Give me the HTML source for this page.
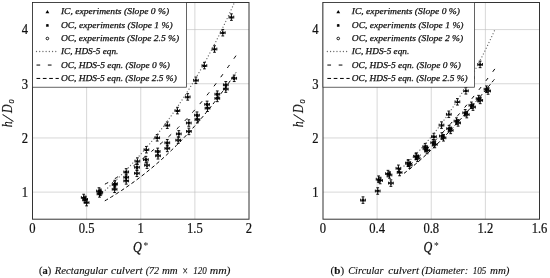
<!DOCTYPE html>
<html lang="en"><head><meta charset="utf-8"><title>Culvert headwater figure</title>
<style>html,body{margin:0;padding:0;background:#fff}svg{display:block}</style></head>
<body>
<svg width="550" height="278" viewBox="0 0 550 278" font-family='"Liberation Serif", "DejaVu Serif", serif' fill="#111">
<rect width="550" height="278" fill="#fff"/>
<path d="M86.62 2.5V219.2M140.75 2.5V219.2M194.88 2.5V219.2M32.5 192.11H249.0M32.5 137.94H249.0M32.5 83.76H249.0M32.5 29.59H249.0" stroke="#bdbdbd" stroke-width="0.6" fill="none"/>
<g stroke="#000" stroke-width="0.92" fill="none">
<path d="M81.35 197.50H86.05M83.70 194.25V200.75M81.35 196.10v2.8M86.05 196.10v2.8M82.30 194.25h2.8M82.30 200.75h2.8"/>
<path d="M96.65 191.00H101.35M99.00 187.75V194.25M96.65 189.60v2.8M101.35 189.60v2.8M97.60 187.75h2.8M97.60 194.25h2.8"/>
<path d="M112.55 183.60H117.25M114.90 180.35V186.85M112.55 182.20v2.8M117.25 182.20v2.8M113.50 180.35h2.8M113.50 186.85h2.8"/>
<path d="M123.85 171.90H128.55M126.20 168.65V175.15M123.85 170.50v2.8M128.55 170.50v2.8M124.80 168.65h2.8M124.80 175.15h2.8"/>
<path d="M135.05 161.10H139.75M137.40 157.85V164.35M135.05 159.70v2.8M139.75 159.70v2.8M136.00 157.85h2.8M136.00 164.35h2.8"/>
<path d="M144.05 149.70H148.75M146.40 146.45V152.95M144.05 148.30v2.8M148.75 148.30v2.8M145.00 146.45h2.8M145.00 152.95h2.8"/>
<path d="M154.85 137.80H159.55M157.20 134.55V141.05M154.85 136.40v2.8M159.55 136.40v2.8M155.80 134.55h2.8M155.80 141.05h2.8"/>
<path d="M164.95 125.20H169.65M167.30 121.95V128.45M164.95 123.80v2.8M169.65 123.80v2.8M165.90 121.95h2.8M165.90 128.45h2.8"/>
<path d="M175.05 110.60H179.75M177.40 107.35V113.85M175.05 109.20v2.8M179.75 109.20v2.8M176.00 107.35h2.8M176.00 113.85h2.8"/>
<path d="M185.35 96.90H190.05M187.70 93.65V100.15M185.35 95.50v2.8M190.05 95.50v2.8M186.30 93.65h2.8M186.30 100.15h2.8"/>
<path d="M193.55 80.30H198.25M195.90 77.05V83.55M193.55 78.90v2.8M198.25 78.90v2.8M194.50 77.05h2.8M194.50 83.55h2.8"/>
<path d="M202.05 65.60H206.75M204.40 62.35V68.85M202.05 64.20v2.8M206.75 64.20v2.8M203.00 62.35h2.8M203.00 68.85h2.8"/>
<path d="M212.15 49.00H216.85M214.50 45.75V52.25M212.15 47.60v2.8M216.85 47.60v2.8M213.10 45.75h2.8M213.10 52.25h2.8"/>
<path d="M220.45 32.70H225.15M222.80 29.45V35.95M220.45 31.30v2.8M225.15 31.30v2.8M221.40 29.45h2.8M221.40 35.95h2.8"/>
<path d="M229.05 17.10H233.75M231.40 13.85V20.35M229.05 15.70v2.8M233.75 15.70v2.8M230.00 13.85h2.8M230.00 20.35h2.8"/>
<path d="M82.75 199.40H87.45M85.10 196.15V202.65M82.75 198.00v2.8M87.45 198.00v2.8M83.70 196.15h2.8M83.70 202.65h2.8"/>
<path d="M97.95 192.30H102.65M100.30 189.05V195.55M97.95 190.90v2.8M102.65 190.90v2.8M98.90 189.05h2.8M98.90 195.55h2.8"/>
<path d="M112.25 184.60H116.95M114.60 181.35V187.85M112.25 183.20v2.8M116.95 183.20v2.8M113.20 181.35h2.8M113.20 187.85h2.8"/>
<path d="M123.85 177.30H128.55M126.20 174.05V180.55M123.85 175.90v2.8M128.55 175.90v2.8M124.80 174.05h2.8M124.80 180.55h2.8"/>
<path d="M134.65 167.30H139.35M137.00 164.05V170.55M134.65 165.90v2.8M139.35 165.90v2.8M135.60 164.05h2.8M135.60 170.55h2.8"/>
<path d="M143.55 159.60H148.25M145.90 156.35V162.85M143.55 158.20v2.8M148.25 158.20v2.8M144.50 156.35h2.8M144.50 162.85h2.8"/>
<path d="M155.35 151.40H160.05M157.70 148.15V154.65M155.35 150.00v2.8M160.05 150.00v2.8M156.30 148.15h2.8M156.30 154.65h2.8"/>
<path d="M164.95 142.80H169.65M167.30 139.55V146.05M164.95 141.40v2.8M169.65 141.40v2.8M165.90 139.55h2.8M165.90 146.05h2.8"/>
<path d="M176.45 133.90H181.15M178.80 130.65V137.15M176.45 132.50v2.8M181.15 132.50v2.8M177.40 130.65h2.8M177.40 137.15h2.8"/>
<path d="M186.45 123.00H191.15M188.80 119.75V126.25M186.45 121.60v2.8M191.15 121.60v2.8M187.40 119.75h2.8M187.40 126.25h2.8"/>
<path d="M194.65 115.20H199.35M197.00 111.95V118.45M194.65 113.80v2.8M199.35 113.80v2.8M195.60 111.95h2.8M195.60 118.45h2.8"/>
<path d="M204.75 104.40H209.45M207.10 101.15V107.65M204.75 103.00v2.8M209.45 103.00v2.8M205.70 101.15h2.8M205.70 107.65h2.8"/>
<path d="M214.95 94.20H219.65M217.30 90.95V97.45M214.95 92.80v2.8M219.65 92.80v2.8M215.90 90.95h2.8M215.90 97.45h2.8"/>
<path d="M223.45 84.80H228.15M225.80 81.55V88.05M223.45 83.40v2.8M228.15 83.40v2.8M224.40 81.55h2.8M224.40 88.05h2.8"/>
<path d="M231.85 78.30H236.55M234.20 75.05V81.55M231.85 76.90v2.8M236.55 76.90v2.8M232.80 75.05h2.8M232.80 81.55h2.8"/>
<path d="M84.25 202.60H88.95M86.60 199.35V205.85M84.25 201.20v2.8M88.95 201.20v2.8M85.20 199.35h2.8M85.20 205.85h2.8"/>
<path d="M97.15 193.90H101.85M99.50 190.65V197.15M97.15 192.50v2.8M101.85 192.50v2.8M98.10 190.65h2.8M98.10 197.15h2.8"/>
<path d="M112.25 189.30H116.95M114.60 186.05V192.55M112.25 187.90v2.8M116.95 187.90v2.8M113.20 186.05h2.8M113.20 192.55h2.8"/>
<path d="M123.85 180.90H128.55M126.20 177.65V184.15M123.85 179.50v2.8M128.55 179.50v2.8M124.80 177.65h2.8M124.80 184.15h2.8"/>
<path d="M134.55 173.30H139.25M136.90 170.05V176.55M134.55 171.90v2.8M139.25 171.90v2.8M135.50 170.05h2.8M135.50 176.55h2.8"/>
<path d="M144.65 165.20H149.35M147.00 161.95V168.45M144.65 163.80v2.8M149.35 163.80v2.8M145.60 161.95h2.8M145.60 168.45h2.8"/>
<path d="M155.65 155.80H160.35M158.00 152.55V159.05M155.65 154.40v2.8M160.35 154.40v2.8M156.60 152.55h2.8M156.60 159.05h2.8"/>
<path d="M164.95 148.40H169.65M167.30 145.15V151.65M164.95 147.00v2.8M169.65 147.00v2.8M165.90 145.15h2.8M165.90 151.65h2.8"/>
<path d="M175.85 140.20H180.55M178.20 136.95V143.45M175.85 138.80v2.8M180.55 138.80v2.8M176.80 136.95h2.8M176.80 143.45h2.8"/>
<path d="M186.55 131.40H191.25M188.90 128.15V134.65M186.55 130.00v2.8M191.25 130.00v2.8M187.50 128.15h2.8M187.50 134.65h2.8"/>
<path d="M195.05 119.60H199.75M197.40 116.35V122.85M195.05 118.20v2.8M199.75 118.20v2.8M196.00 116.35h2.8M196.00 122.85h2.8"/>
<path d="M205.15 108.20H209.85M207.50 104.95V111.45M205.15 106.80v2.8M209.85 106.80v2.8M206.10 104.95h2.8M206.10 111.45h2.8"/>
<path d="M214.95 98.40H219.65M217.30 95.15V101.65M214.95 97.00v2.8M219.65 97.00v2.8M215.90 95.15h2.8M215.90 101.65h2.8"/>
<path d="M223.45 89.10H228.15M225.80 85.85V92.35M223.45 87.70v2.8M228.15 87.70v2.8M224.40 85.85h2.8M224.40 92.35h2.8"/>
<path d="M83.70 195.50l1.9 3.3h-3.8z" fill="#000" stroke="none"/>
<path d="M99.00 189.00l1.9 3.3h-3.8z" fill="#000" stroke="none"/>
<path d="M114.90 181.60l1.9 3.3h-3.8z" fill="#000" stroke="none"/>
<path d="M126.20 169.90l1.9 3.3h-3.8z" fill="#000" stroke="none"/>
<path d="M137.40 159.10l1.9 3.3h-3.8z" fill="#000" stroke="none"/>
<path d="M146.40 147.70l1.9 3.3h-3.8z" fill="#000" stroke="none"/>
<path d="M157.20 135.80l1.9 3.3h-3.8z" fill="#000" stroke="none"/>
<path d="M167.30 123.20l1.9 3.3h-3.8z" fill="#000" stroke="none"/>
<path d="M177.40 108.60l1.9 3.3h-3.8z" fill="#000" stroke="none"/>
<path d="M187.70 94.90l1.9 3.3h-3.8z" fill="#000" stroke="none"/>
<path d="M195.90 78.30l1.9 3.3h-3.8z" fill="#000" stroke="none"/>
<path d="M204.40 63.60l1.9 3.3h-3.8z" fill="#000" stroke="none"/>
<path d="M214.50 47.00l1.9 3.3h-3.8z" fill="#000" stroke="none"/>
<path d="M222.80 30.70l1.9 3.3h-3.8z" fill="#000" stroke="none"/>
<path d="M231.40 15.10l1.9 3.3h-3.8z" fill="#000" stroke="none"/>
<path d="M84.00 198.30l2.2 2.2m0 -2.2l-2.2 2.2" stroke-width="1.4"/>
<path d="M99.20 191.20l2.2 2.2m0 -2.2l-2.2 2.2" stroke-width="1.4"/>
<path d="M113.50 183.50l2.2 2.2m0 -2.2l-2.2 2.2" stroke-width="1.4"/>
<path d="M125.10 176.20l2.2 2.2m0 -2.2l-2.2 2.2" stroke-width="1.4"/>
<path d="M135.90 166.20l2.2 2.2m0 -2.2l-2.2 2.2" stroke-width="1.4"/>
<path d="M144.80 158.50l2.2 2.2m0 -2.2l-2.2 2.2" stroke-width="1.4"/>
<path d="M156.60 150.30l2.2 2.2m0 -2.2l-2.2 2.2" stroke-width="1.4"/>
<path d="M166.20 141.70l2.2 2.2m0 -2.2l-2.2 2.2" stroke-width="1.4"/>
<path d="M177.70 132.80l2.2 2.2m0 -2.2l-2.2 2.2" stroke-width="1.4"/>
<path d="M187.70 121.90l2.2 2.2m0 -2.2l-2.2 2.2" stroke-width="1.4"/>
<path d="M195.90 114.10l2.2 2.2m0 -2.2l-2.2 2.2" stroke-width="1.4"/>
<path d="M206.00 103.30l2.2 2.2m0 -2.2l-2.2 2.2" stroke-width="1.4"/>
<path d="M216.20 93.10l2.2 2.2m0 -2.2l-2.2 2.2" stroke-width="1.4"/>
<path d="M224.70 83.70l2.2 2.2m0 -2.2l-2.2 2.2" stroke-width="1.4"/>
<path d="M233.10 77.20l2.2 2.2m0 -2.2l-2.2 2.2" stroke-width="1.4"/>
<circle cx="86.60" cy="202.60" r="1.3" fill="none" stroke-width="0.9"/>
<circle cx="99.50" cy="193.90" r="1.3" fill="none" stroke-width="0.9"/>
<circle cx="114.60" cy="189.30" r="1.3" fill="none" stroke-width="0.9"/>
<circle cx="126.20" cy="180.90" r="1.3" fill="none" stroke-width="0.9"/>
<circle cx="136.90" cy="173.30" r="1.3" fill="none" stroke-width="0.9"/>
<circle cx="147.00" cy="165.20" r="1.3" fill="none" stroke-width="0.9"/>
<circle cx="158.00" cy="155.80" r="1.3" fill="none" stroke-width="0.9"/>
<circle cx="167.30" cy="148.40" r="1.3" fill="none" stroke-width="0.9"/>
<circle cx="178.20" cy="140.20" r="1.3" fill="none" stroke-width="0.9"/>
<circle cx="188.90" cy="131.40" r="1.3" fill="none" stroke-width="0.9"/>
<circle cx="197.40" cy="119.60" r="1.3" fill="none" stroke-width="0.9"/>
<circle cx="207.50" cy="108.20" r="1.3" fill="none" stroke-width="0.9"/>
<circle cx="217.30" cy="98.40" r="1.3" fill="none" stroke-width="0.9"/>
<circle cx="225.80" cy="89.10" r="1.3" fill="none" stroke-width="0.9"/>
</g>
<path d="M105.30 190.18L107.49 188.18L109.68 186.15L111.87 184.09L114.06 182.00L116.25 179.89L118.44 177.75L120.63 175.59L122.82 173.39L125.01 171.16L127.20 168.90L129.39 166.61L131.58 164.29L133.77 161.94L135.96 159.55L138.15 157.13L140.34 154.67L142.53 152.18L144.72 149.65L146.91 147.08L149.10 144.48L151.29 141.83L153.48 139.15L155.67 136.42L157.86 133.65L160.05 130.84L162.24 127.98L164.43 125.09L166.62 122.14L168.81 119.15L170.99 116.11L173.18 113.02L175.37 109.88L177.56 106.70L179.75 103.46L181.94 100.16L184.13 96.82L186.32 93.42L188.51 89.96L190.70 86.45L192.89 82.87L195.08 79.24L197.27 75.55L199.46 71.80L201.65 67.98L203.84 64.10L206.03 60.15L208.22 56.14L210.41 52.06L212.60 47.92L214.79 43.70L216.98 39.41L219.17 35.04L221.36 30.61L223.55 26.10L225.74 21.51L227.93 16.84L230.12 12.10L232.31 7.27L234.50 2.36" stroke="#686868" stroke-width="1.3" fill="none" stroke-dasharray="0.01 3.2" stroke-dashoffset="0" stroke-linecap="round"/>
<path d="M104.90 184.20L106.57 183.34L108.23 182.45L109.90 181.53L111.57 180.59L113.24 179.61L114.90 178.61L116.57 177.57L118.24 176.52L119.90 175.43L121.57 174.33L123.24 173.19L124.91 172.04L126.57 170.87L128.24 169.67L129.91 168.46L131.57 167.23L133.24 165.98L134.91 164.71L136.57 163.43L138.24 162.13L139.91 160.82L141.58 159.50L143.24 158.17L144.91 156.82L146.58 155.47L148.24 154.10L149.91 152.73L151.58 151.35L153.25 149.97L154.91 148.58L156.58 147.18L158.25 145.77L159.91 144.35L161.58 142.92L163.25 141.47L164.92 140.01L166.58 138.53L168.25 137.04L169.92 135.52L171.58 133.98L173.25 132.42L174.92 130.84L176.58 129.23L178.25 127.60L179.92 125.93L181.59 124.24L183.25 122.53L184.92 120.78L186.59 119.01L188.25 117.21L189.92 115.38L191.59 113.53L193.26 111.65L194.92 109.75L196.59 107.82L198.26 105.87L199.92 103.89L201.59 101.89L203.26 99.86L204.93 97.80L206.59 95.73L208.26 93.63L209.93 91.50L211.59 89.35L213.26 87.18L214.93 84.99L216.59 82.77L218.26 80.53L219.93 78.27L221.60 75.99L223.26 73.70L224.93 71.38L226.60 69.05L228.26 66.70L229.93 64.34L231.60 61.96L233.27 59.57L234.93 57.16L236.60 54.75" stroke="#000" stroke-width="1.0" fill="none" stroke-dasharray="3.7 7.65" stroke-dashoffset="0" stroke-linecap="butt"/>
<path d="M104.80 200.84L106.46 199.87L108.12 198.89L109.78 197.89L111.44 196.88L113.10 195.86L114.76 194.82L116.43 193.77L118.09 192.71L119.75 191.63L121.41 190.54L123.07 189.44L124.73 188.32L126.39 187.18L128.05 186.03L129.71 184.87L131.37 183.69L133.03 182.50L134.69 181.29L136.35 180.06L138.02 178.82L139.68 177.57L141.34 176.30L143.00 175.01L144.66 173.71L146.32 172.39L147.98 171.05L149.64 169.70L151.30 168.33L152.96 166.94L154.62 165.53L156.28 164.11L157.94 162.67L159.61 161.22L161.27 159.74L162.93 158.25L164.59 156.74L166.25 155.21L167.91 153.67L169.57 152.10L171.23 150.52L172.89 148.91L174.55 147.29L176.21 145.65L177.87 143.99L179.53 142.31L181.19 140.61L182.86 138.89L184.52 137.15L186.18 135.39L187.84 133.61L189.50 131.81L191.16 129.99L192.82 128.14L194.48 126.28L196.14 124.40L197.80 122.49L199.46 120.57L201.12 118.62L202.78 116.65L204.45 114.66L206.11 112.64L207.77 110.61L209.43 108.55L211.09 106.47L212.75 104.36L214.41 102.24L216.07 100.09L217.73 97.91L219.39 95.72L221.05 93.50L222.71 91.26L224.37 88.99L226.04 86.70L227.70 84.38L229.36 82.05L231.02 79.68L232.68 77.30L234.34 74.88L236.00 72.45" stroke="#000" stroke-width="1.0" fill="none" stroke-dasharray="3.7 2.65" stroke-dashoffset="0" stroke-linecap="butt"/>
<rect x="32.5" y="2.5" width="216.50" height="216.70" fill="none" stroke="#333" stroke-width="1"/>
<text transform="translate(32.50 232.7) scale(1 1.09)" font-size="12.6" text-anchor="middle" stroke="#111" stroke-width="0.2">0</text>
<text transform="translate(86.62 232.7) scale(1 1.09)" font-size="12.6" text-anchor="middle" stroke="#111" stroke-width="0.2">0.5</text>
<text transform="translate(140.75 232.7) scale(1 1.09)" font-size="12.6" text-anchor="middle" stroke="#111" stroke-width="0.2">1</text>
<text transform="translate(194.88 232.7) scale(1 1.09)" font-size="12.6" text-anchor="middle" stroke="#111" stroke-width="0.2">1.5</text>
<text transform="translate(249.00 232.7) scale(1 1.09)" font-size="12.6" text-anchor="middle" stroke="#111" stroke-width="0.2">2</text>
<text transform="translate(28.10 196.91) scale(1 1.14)" font-size="12.6" text-anchor="end" stroke="#111" stroke-width="0.2">1</text>
<text transform="translate(28.10 142.74) scale(1 1.14)" font-size="12.6" text-anchor="end" stroke="#111" stroke-width="0.2">2</text>
<text transform="translate(28.10 88.56) scale(1 1.14)" font-size="12.6" text-anchor="end" stroke="#111" stroke-width="0.2">3</text>
<text transform="translate(28.10 34.39) scale(1 1.14)" font-size="12.6" text-anchor="end" stroke="#111" stroke-width="0.2">4</text>
<rect x="32.5" y="2.5" width="154.05" height="84.70" fill="#fff" stroke="#222" stroke-width="0.7"/>
<g stroke="#000" stroke-width="0.6" fill="none"><path d="M47.40 10.00l1.9 3.3h-3.8z" fill="#000" stroke="none"/></g>
<text x="60.90" y="14.0" font-size="9" font-style="italic" stroke="#111" stroke-width="0.25" textLength="108.3" lengthAdjust="spacingAndGlyphs">IC, experiments (Slope 0 %)</text>
<g stroke="#000" stroke-width="0.6" fill="none"><path d="M46.30 24.40l2.2 2.2m0 -2.2l-2.2 2.2" stroke-width="1.4"/></g>
<text x="60.90" y="27.6" font-size="9" font-style="italic" stroke="#111" stroke-width="0.25" textLength="111.8" lengthAdjust="spacingAndGlyphs">OC, experiments (Slope 1 %)</text>
<g stroke="#000" stroke-width="0.6" fill="none"><circle cx="47.40" cy="38.50" r="1.3" fill="none" stroke-width="0.9"/></g>
<text x="60.90" y="40.6" font-size="9" font-style="italic" stroke="#111" stroke-width="0.25" textLength="118.2" lengthAdjust="spacingAndGlyphs">OC, experiments (Slope 2.5 %)</text>
<path d="M36.50 51.5H58.80" stroke="#686868" stroke-width="1.3" stroke-dasharray="0.01 3.2" fill="none" stroke-linecap="round"/>
<text x="60.90" y="53.9" font-size="9" font-style="italic" stroke="#111" stroke-width="0.25" textLength="57.5" lengthAdjust="spacingAndGlyphs">IC, HDS-5 eqn.</text>
<path d="M36.50 65.05H58.80" stroke="#000" stroke-width="1.0" stroke-dasharray="3.7 7.65" fill="none" stroke-linecap="butt"/>
<text x="60.90" y="67.5" font-size="9" font-style="italic" stroke="#111" stroke-width="0.25" textLength="109.1" lengthAdjust="spacingAndGlyphs">OC, HDS-5 eqn. (Slope 0 %)</text>
<path d="M36.50 78.45H58.80" stroke="#000" stroke-width="1.0" stroke-dasharray="3.7 2.65" fill="none" stroke-linecap="butt"/>
<text x="60.90" y="80.5" font-size="9" font-style="italic" stroke="#111" stroke-width="0.25" textLength="115.9" lengthAdjust="spacingAndGlyphs">OC, HDS-5 eqn. (Slope 2.5 %)</text>
<path d="M377.12 2.5V219.2M431.25 2.5V219.2M485.38 2.5V219.2M323.0 192.11H539.5M323.0 137.94H539.5M323.0 83.76H539.5M323.0 29.59H539.5" stroke="#bdbdbd" stroke-width="0.6" fill="none"/>
<g stroke="#000" stroke-width="0.92" fill="none">
<path d="M360.65 200.10H365.35M363.00 196.85V203.35M360.65 198.70v2.8M365.35 198.70v2.8M361.60 196.85h2.8M361.60 203.35h2.8"/>
<path d="M376.25 179.20H380.95M378.60 175.95V182.45M376.25 177.80v2.8M380.95 177.80v2.8M377.20 175.95h2.8M377.20 182.45h2.8"/>
<path d="M385.65 173.60H390.35M388.00 170.35V176.85M385.65 172.20v2.8M390.35 172.20v2.8M386.60 170.35h2.8M386.60 176.85h2.8"/>
<path d="M396.05 168.30H400.75M398.40 165.05V171.55M396.05 166.90v2.8M400.75 166.90v2.8M397.00 165.05h2.8M397.00 171.55h2.8"/>
<path d="M405.95 163.00H410.65M408.30 159.75V166.25M405.95 161.60v2.8M410.65 161.60v2.8M406.90 159.75h2.8M406.90 166.25h2.8"/>
<path d="M413.95 156.20H418.65M416.30 152.95V159.45M413.95 154.80v2.8M418.65 154.80v2.8M414.90 152.95h2.8M414.90 159.45h2.8"/>
<path d="M422.85 146.70H427.55M425.20 143.45V149.95M422.85 145.30v2.8M427.55 145.30v2.8M423.80 143.45h2.8M423.80 149.95h2.8"/>
<path d="M431.55 136.60H436.25M433.90 133.35V139.85M431.55 135.20v2.8M436.25 135.20v2.8M432.50 133.35h2.8M432.50 139.85h2.8"/>
<path d="M439.15 125.10H443.85M441.50 121.85V128.35M439.15 123.70v2.8M443.85 123.70v2.8M440.10 121.85h2.8M440.10 128.35h2.8"/>
<path d="M446.45 114.30H451.15M448.80 111.05V117.55M446.45 112.90v2.8M451.15 112.90v2.8M447.40 111.05h2.8M447.40 117.55h2.8"/>
<path d="M455.05 101.80H459.75M457.40 98.55V105.05M455.05 100.40v2.8M459.75 100.40v2.8M456.00 98.55h2.8M456.00 105.05h2.8"/>
<path d="M463.55 90.80H468.25M465.90 87.55V94.05M463.55 89.40v2.8M468.25 89.40v2.8M464.50 87.55h2.8M464.50 94.05h2.8"/>
<path d="M469.65 77.60H474.35M472.00 74.35V80.85M469.65 76.20v2.8M474.35 76.20v2.8M470.60 74.35h2.8M470.60 80.85h2.8"/>
<path d="M477.75 64.40H482.45M480.10 61.15V67.65M477.75 63.00v2.8M482.45 63.00v2.8M478.70 61.15h2.8M478.70 67.65h2.8"/>
<path d="M375.35 191.00H380.05M377.70 187.75V194.25M375.35 189.60v2.8M380.05 189.60v2.8M376.30 187.75h2.8M376.30 194.25h2.8"/>
<path d="M377.75 180.50H382.45M380.10 177.25V183.75M377.75 179.10v2.8M382.45 179.10v2.8M378.70 177.25h2.8M378.70 183.75h2.8"/>
<path d="M387.15 175.00H391.85M389.50 171.75V178.25M387.15 173.60v2.8M391.85 173.60v2.8M388.10 171.75h2.8M388.10 178.25h2.8"/>
<path d="M397.25 172.50H401.95M399.60 169.25V175.75M397.25 171.10v2.8M401.95 171.10v2.8M398.20 169.25h2.8M398.20 175.75h2.8"/>
<path d="M484.15 89.20H488.85M486.50 85.95V92.45M484.15 87.80v2.8M488.85 87.80v2.8M485.10 85.95h2.8M485.10 92.45h2.8"/>
<path d="M476.25 98.60H480.95M478.60 95.35V101.85M476.25 97.20v2.8M480.95 97.20v2.8M477.20 95.35h2.8M477.20 101.85h2.8"/>
<path d="M469.05 105.30H473.75M471.40 102.05V108.55M469.05 103.90v2.8M473.75 103.90v2.8M470.00 102.05h2.8M470.00 108.55h2.8"/>
<path d="M462.85 112.80H467.55M465.20 109.55V116.05M462.85 111.40v2.8M467.55 111.40v2.8M463.80 109.55h2.8M463.80 116.05h2.8"/>
<path d="M454.15 121.10H458.85M456.50 117.85V124.35M454.15 119.70v2.8M458.85 119.70v2.8M455.10 117.85h2.8M455.10 124.35h2.8"/>
<path d="M446.75 128.60H451.45M449.10 125.35V131.85M446.75 127.20v2.8M451.45 127.20v2.8M447.70 125.35h2.8M447.70 131.85h2.8"/>
<path d="M439.55 136.00H444.25M441.90 132.75V139.25M439.55 134.60v2.8M444.25 134.60v2.8M440.50 132.75h2.8M440.50 139.25h2.8"/>
<path d="M430.85 142.70H435.55M433.20 139.45V145.95M430.85 141.30v2.8M435.55 141.30v2.8M431.80 139.45h2.8M431.80 145.95h2.8"/>
<path d="M423.15 148.70H427.85M425.50 145.45V151.95M423.15 147.30v2.8M427.85 147.30v2.8M424.10 145.45h2.8M424.10 151.95h2.8"/>
<path d="M413.65 156.50H418.35M416.00 153.25V159.75M413.65 155.10v2.8M418.35 155.10v2.8M414.60 153.25h2.8M414.60 159.75h2.8"/>
<path d="M405.75 163.30H410.45M408.10 160.05V166.55M405.75 161.90v2.8M410.45 161.90v2.8M406.70 160.05h2.8M406.70 166.55h2.8"/>
<path d="M388.55 183.10H393.25M390.90 179.85V186.35M388.55 181.70v2.8M393.25 181.70v2.8M389.50 179.85h2.8M389.50 186.35h2.8"/>
<path d="M485.75 91.00H490.45M488.10 87.75V94.25M485.75 89.60v2.8M490.45 89.60v2.8M486.70 87.75h2.8M486.70 94.25h2.8"/>
<path d="M477.85 100.40H482.55M480.20 97.15V103.65M477.85 99.00v2.8M482.55 99.00v2.8M478.80 97.15h2.8M478.80 103.65h2.8"/>
<path d="M470.65 107.10H475.35M473.00 103.85V110.35M470.65 105.70v2.8M475.35 105.70v2.8M471.60 103.85h2.8M471.60 110.35h2.8"/>
<path d="M464.45 114.60H469.15M466.80 111.35V117.85M464.45 113.20v2.8M469.15 113.20v2.8M465.40 111.35h2.8M465.40 117.85h2.8"/>
<path d="M455.75 122.90H460.45M458.10 119.65V126.15M455.75 121.50v2.8M460.45 121.50v2.8M456.70 119.65h2.8M456.70 126.15h2.8"/>
<path d="M448.35 130.40H453.05M450.70 127.15V133.65M448.35 129.00v2.8M453.05 129.00v2.8M449.30 127.15h2.8M449.30 133.65h2.8"/>
<path d="M441.15 137.80H445.85M443.50 134.55V141.05M441.15 136.40v2.8M445.85 136.40v2.8M442.10 134.55h2.8M442.10 141.05h2.8"/>
<path d="M432.45 144.50H437.15M434.80 141.25V147.75M432.45 143.10v2.8M437.15 143.10v2.8M433.40 141.25h2.8M433.40 147.75h2.8"/>
<path d="M424.75 150.50H429.45M427.10 147.25V153.75M424.75 149.10v2.8M429.45 149.10v2.8M425.70 147.25h2.8M425.70 153.75h2.8"/>
<path d="M415.25 158.30H419.95M417.60 155.05V161.55M415.25 156.90v2.8M419.95 156.90v2.8M416.20 155.05h2.8M416.20 161.55h2.8"/>
<path d="M407.35 165.10H412.05M409.70 161.85V168.35M407.35 163.70v2.8M412.05 163.70v2.8M408.30 161.85h2.8M408.30 168.35h2.8"/>
<path d="M363.00 198.10l1.9 3.3h-3.8z" fill="#000" stroke="none"/>
<path d="M378.60 177.20l1.9 3.3h-3.8z" fill="#000" stroke="none"/>
<path d="M388.00 171.60l1.9 3.3h-3.8z" fill="#000" stroke="none"/>
<path d="M398.40 166.30l1.9 3.3h-3.8z" fill="#000" stroke="none"/>
<path d="M408.30 161.00l1.9 3.3h-3.8z" fill="#000" stroke="none"/>
<path d="M416.30 154.20l1.9 3.3h-3.8z" fill="#000" stroke="none"/>
<path d="M425.20 144.70l1.9 3.3h-3.8z" fill="#000" stroke="none"/>
<path d="M433.90 134.60l1.9 3.3h-3.8z" fill="#000" stroke="none"/>
<path d="M441.50 123.10l1.9 3.3h-3.8z" fill="#000" stroke="none"/>
<path d="M448.80 112.30l1.9 3.3h-3.8z" fill="#000" stroke="none"/>
<path d="M457.40 99.80l1.9 3.3h-3.8z" fill="#000" stroke="none"/>
<path d="M465.90 88.80l1.9 3.3h-3.8z" fill="#000" stroke="none"/>
<path d="M472.00 75.60l1.9 3.3h-3.8z" fill="#000" stroke="none"/>
<path d="M480.10 62.40l1.9 3.3h-3.8z" fill="#000" stroke="none"/>
<path d="M376.60 189.90l2.2 2.2m0 -2.2l-2.2 2.2" stroke-width="1.4"/>
<path d="M379.00 179.40l2.2 2.2m0 -2.2l-2.2 2.2" stroke-width="1.4"/>
<path d="M388.40 173.90l2.2 2.2m0 -2.2l-2.2 2.2" stroke-width="1.4"/>
<path d="M398.50 171.40l2.2 2.2m0 -2.2l-2.2 2.2" stroke-width="1.4"/>
<path d="M485.40 88.10l2.2 2.2m0 -2.2l-2.2 2.2" stroke-width="1.4"/>
<path d="M477.50 97.50l2.2 2.2m0 -2.2l-2.2 2.2" stroke-width="1.4"/>
<path d="M470.30 104.20l2.2 2.2m0 -2.2l-2.2 2.2" stroke-width="1.4"/>
<path d="M464.10 111.70l2.2 2.2m0 -2.2l-2.2 2.2" stroke-width="1.4"/>
<path d="M455.40 120.00l2.2 2.2m0 -2.2l-2.2 2.2" stroke-width="1.4"/>
<path d="M448.00 127.50l2.2 2.2m0 -2.2l-2.2 2.2" stroke-width="1.4"/>
<path d="M440.80 134.90l2.2 2.2m0 -2.2l-2.2 2.2" stroke-width="1.4"/>
<path d="M432.10 141.60l2.2 2.2m0 -2.2l-2.2 2.2" stroke-width="1.4"/>
<path d="M424.40 147.60l2.2 2.2m0 -2.2l-2.2 2.2" stroke-width="1.4"/>
<path d="M414.90 155.40l2.2 2.2m0 -2.2l-2.2 2.2" stroke-width="1.4"/>
<path d="M407.00 162.20l2.2 2.2m0 -2.2l-2.2 2.2" stroke-width="1.4"/>
<circle cx="390.90" cy="183.10" r="1.3" fill="none" stroke-width="0.9"/>
<circle cx="488.10" cy="91.00" r="1.3" fill="none" stroke-width="0.9"/>
<circle cx="480.20" cy="100.40" r="1.3" fill="none" stroke-width="0.9"/>
<circle cx="473.00" cy="107.10" r="1.3" fill="none" stroke-width="0.9"/>
<circle cx="466.80" cy="114.60" r="1.3" fill="none" stroke-width="0.9"/>
<circle cx="458.10" cy="122.90" r="1.3" fill="none" stroke-width="0.9"/>
<circle cx="450.70" cy="130.40" r="1.3" fill="none" stroke-width="0.9"/>
<circle cx="443.50" cy="137.80" r="1.3" fill="none" stroke-width="0.9"/>
<circle cx="434.80" cy="144.50" r="1.3" fill="none" stroke-width="0.9"/>
<circle cx="427.10" cy="150.50" r="1.3" fill="none" stroke-width="0.9"/>
<circle cx="417.60" cy="158.30" r="1.3" fill="none" stroke-width="0.9"/>
<circle cx="409.70" cy="165.10" r="1.3" fill="none" stroke-width="0.9"/>
</g>
<path d="M404.00 166.07L406.33 163.86L408.67 161.59L411.00 159.28L413.33 156.91L415.67 154.49L418.00 152.01L420.33 149.47L422.67 146.88L425.00 144.22L427.33 141.50L429.67 138.72L432.00 135.88L434.33 132.97L436.67 129.99L439.00 126.94L441.33 123.82L443.67 120.63L446.00 117.37L448.33 114.03L450.67 110.62L453.00 107.13L455.33 103.56L457.67 99.91L460.00 96.18L462.33 92.36L464.67 88.46L467.00 84.48L469.33 80.41L471.67 76.24L474.00 71.99L476.33 67.65L478.67 63.22L481.00 58.69L483.33 54.06L485.67 49.34L488.00 44.51L490.33 39.59L492.67 34.57L495.00 29.44" stroke="#686868" stroke-width="1.3" fill="none" stroke-dasharray="0.01 3.2" stroke-dashoffset="0" stroke-linecap="round"/>
<path d="M404.00 170.18L406.34 168.13L408.69 166.04L411.03 163.92L413.37 161.78L415.72 159.61L418.06 157.40L420.41 155.17L422.75 152.91L425.09 150.61L427.44 148.29L429.78 145.94L432.12 143.56L434.47 141.15L436.81 138.71L439.15 136.24L441.50 133.75L443.84 131.22L446.18 128.66L448.53 126.07L450.87 123.46L453.22 120.81L455.56 118.14L457.90 115.43L460.25 112.70L462.59 109.93L464.93 107.14L467.28 104.32L469.62 101.47L471.96 98.59L474.31 95.68L476.65 92.73L478.99 89.76L481.34 86.77L483.68 83.74L486.03 80.68L488.37 77.59L490.71 74.47L493.06 71.33L495.40 68.15" stroke="#000" stroke-width="1.0" fill="none" stroke-dasharray="3.7 7.65" stroke-dashoffset="3.6" stroke-linecap="butt"/>
<path d="M404.00 173.36L406.35 171.56L408.71 169.71L411.06 167.82L413.42 165.88L415.77 163.90L418.12 161.87L420.48 159.81L422.83 157.70L425.18 155.55L427.54 153.37L429.89 151.15L432.25 148.89L434.60 146.60L436.95 144.27L439.31 141.91L441.66 139.52L444.02 137.09L446.37 134.63L448.72 132.15L451.08 129.63L453.43 127.09L455.78 124.52L458.14 121.92L460.49 119.30L462.85 116.66L465.20 113.99L467.55 111.30L469.91 108.59L472.26 105.86L474.62 103.11L476.97 100.34L479.32 97.56L481.68 94.75L484.03 91.94L486.38 89.11L488.74 86.26L491.09 83.40L493.45 80.53L495.80 77.65" stroke="#000" stroke-width="1.0" fill="none" stroke-dasharray="3.7 2.65" stroke-dashoffset="0" stroke-linecap="butt"/>
<rect x="323.0" y="2.5" width="216.50" height="216.70" fill="none" stroke="#333" stroke-width="1"/>
<text transform="translate(323.00 232.7) scale(1 1.09)" font-size="12.6" text-anchor="middle" stroke="#111" stroke-width="0.2">0</text>
<text transform="translate(377.12 232.7) scale(1 1.09)" font-size="12.6" text-anchor="middle" stroke="#111" stroke-width="0.2">0.4</text>
<text transform="translate(431.25 232.7) scale(1 1.09)" font-size="12.6" text-anchor="middle" stroke="#111" stroke-width="0.2">0.8</text>
<text transform="translate(485.38 232.7) scale(1 1.09)" font-size="12.6" text-anchor="middle" stroke="#111" stroke-width="0.2">1.2</text>
<text transform="translate(539.50 232.7) scale(1 1.09)" font-size="12.6" text-anchor="middle" stroke="#111" stroke-width="0.2">1.6</text>
<text transform="translate(318.60 196.91) scale(1 1.14)" font-size="12.6" text-anchor="end" stroke="#111" stroke-width="0.2">1</text>
<text transform="translate(318.60 142.74) scale(1 1.14)" font-size="12.6" text-anchor="end" stroke="#111" stroke-width="0.2">2</text>
<text transform="translate(318.60 88.56) scale(1 1.14)" font-size="12.6" text-anchor="end" stroke="#111" stroke-width="0.2">3</text>
<text transform="translate(318.60 34.39) scale(1 1.14)" font-size="12.6" text-anchor="end" stroke="#111" stroke-width="0.2">4</text>
<rect x="323.0" y="2.5" width="151.60" height="84.70" fill="#fff" stroke="#222" stroke-width="0.7"/>
<g stroke="#000" stroke-width="0.6" fill="none"><path d="M338.25 10.00l1.9 3.3h-3.8z" fill="#000" stroke="none"/></g>
<text x="351.75" y="14.0" font-size="9" font-style="italic" stroke="#111" stroke-width="0.25" textLength="108.3" lengthAdjust="spacingAndGlyphs">IC, experiments (Slope 0 %)</text>
<g stroke="#000" stroke-width="0.6" fill="none"><path d="M337.15 24.40l2.2 2.2m0 -2.2l-2.2 2.2" stroke-width="1.4"/></g>
<text x="351.75" y="27.6" font-size="9" font-style="italic" stroke="#111" stroke-width="0.25" textLength="111.8" lengthAdjust="spacingAndGlyphs">OC, experiments (Slope 1 %)</text>
<g stroke="#000" stroke-width="0.6" fill="none"><circle cx="338.25" cy="38.50" r="1.3" fill="none" stroke-width="0.9"/></g>
<text x="351.75" y="40.6" font-size="9" font-style="italic" stroke="#111" stroke-width="0.25" textLength="111.5" lengthAdjust="spacingAndGlyphs">OC, experiments (Slope 2 %)</text>
<path d="M327.35 51.5H349.65" stroke="#686868" stroke-width="1.3" stroke-dasharray="0.01 3.2" fill="none" stroke-linecap="round"/>
<text x="351.75" y="53.9" font-size="9" font-style="italic" stroke="#111" stroke-width="0.25" textLength="57.5" lengthAdjust="spacingAndGlyphs">IC, HDS-5 eqn.</text>
<path d="M327.35 65.05H349.65" stroke="#000" stroke-width="1.0" stroke-dasharray="3.7 7.65" fill="none" stroke-linecap="butt"/>
<text x="351.75" y="67.5" font-size="9" font-style="italic" stroke="#111" stroke-width="0.25" textLength="109.1" lengthAdjust="spacingAndGlyphs">OC, HDS-5 eqn. (Slope 0 %)</text>
<path d="M327.35 78.45H349.65" stroke="#000" stroke-width="1.0" stroke-dasharray="3.7 2.65" fill="none" stroke-linecap="butt"/>
<text x="351.75" y="80.5" font-size="9" font-style="italic" stroke="#111" stroke-width="0.25" textLength="115.9" lengthAdjust="spacingAndGlyphs">OC, HDS-5 eqn. (Slope 2.5 %)</text>
<text transform="translate(133.0 251.7) scale(0.9 1.13)" font-size="13.5" font-style="italic" stroke="#111" stroke-width="0.25">Q</text>
<text x="143.4" y="249.3" font-size="9.5">*</text>
<text transform="translate(423.6 251.7) scale(0.9 1.13)" font-size="13.5" font-style="italic" stroke="#111" stroke-width="0.25">Q</text>
<text x="434.0" y="249.3" font-size="9.5">*</text>
<g transform="translate(12.1 127.3) rotate(-90) scale(1 1.17)" font-style="italic" font-size="11.8" stroke="#111" stroke-width="0.15"><text x="0" y="0">h</text><text transform="translate(5.9 0.9) skewX(-24) scale(1 1.1)" font-style="normal" font-size="12" stroke-width="0.4">/</text><text x="14.4" y="0">D</text><text x="23.9" y="1.8" font-size="8.5">o</text></g>
<g transform="translate(302.7 127.3) rotate(-90) scale(1 1.17)" font-style="italic" font-size="11.8" stroke="#111" stroke-width="0.15"><text x="0" y="0">h</text><text transform="translate(5.9 0.9) skewX(-24) scale(1 1.1)" font-style="normal" font-size="12" stroke-width="0.4">/</text><text x="14.4" y="0">D</text><text x="23.9" y="1.8" font-size="8.5">o</text></g>
<text x="39.0" y="273.5" font-size="10.3" stroke="#111" stroke-width="0.12"  textLength="12.2" lengthAdjust="spacingAndGlyphs">(<tspan font-weight="bold">a</tspan>)</text>
<text x="54.8" y="273.5" font-size="10.3" stroke="#111" stroke-width="0.12" font-style="italic" textLength="53.0" lengthAdjust="spacingAndGlyphs">Rectangular</text>
<text x="111.1" y="273.5" font-size="10.3" stroke="#111" stroke-width="0.12" font-style="italic" textLength="31.7" lengthAdjust="spacingAndGlyphs">culvert</text>
<text x="145.7" y="273.5" font-size="10.3" stroke="#111" stroke-width="0.12" font-style="italic" textLength="13.5" lengthAdjust="spacingAndGlyphs">(72</text>
<text x="161.9" y="273.5" font-size="10.3" stroke="#111" stroke-width="0.12" font-style="italic" textLength="15.7" lengthAdjust="spacingAndGlyphs">mm</text>
<text x="182.5" y="273.5" font-size="10.3" stroke="#111" stroke-width="0.12" dy="1" style="font-size:12.5px" textLength="5.4" lengthAdjust="spacingAndGlyphs">×</text>
<text x="193.2" y="273.5" font-size="10.3" stroke="#111" stroke-width="0.12" font-style="italic" textLength="13.6" lengthAdjust="spacingAndGlyphs">120</text>
<text x="209.7" y="273.5" font-size="10.3" stroke="#111" stroke-width="0.12" font-style="italic" textLength="20.8" lengthAdjust="spacingAndGlyphs">mm)</text>
<text x="330.6" y="273.5" font-size="10.3" stroke="#111" stroke-width="0.12"  textLength="13.5" lengthAdjust="spacingAndGlyphs">(<tspan font-weight="bold">b</tspan>)</text>
<text x="348.2" y="273.5" font-size="10.3" stroke="#111" stroke-width="0.12" font-style="italic" textLength="35.4" lengthAdjust="spacingAndGlyphs">Circular</text>
<text x="388.2" y="273.5" font-size="10.3" stroke="#111" stroke-width="0.12" font-style="italic" textLength="30.9" lengthAdjust="spacingAndGlyphs">culvert</text>
<text x="421.5" y="273.5" font-size="10.3" stroke="#111" stroke-width="0.12" font-style="italic" textLength="46.7" lengthAdjust="spacingAndGlyphs">(Diameter:</text>
<text x="472.7" y="273.5" font-size="10.3" stroke="#111" stroke-width="0.12" font-style="italic" textLength="13.7" lengthAdjust="spacingAndGlyphs">105</text>
<text x="490.0" y="273.5" font-size="10.3" stroke="#111" stroke-width="0.12" font-style="italic" textLength="19.5" lengthAdjust="spacingAndGlyphs">mm)</text>
</svg>
</body></html>
